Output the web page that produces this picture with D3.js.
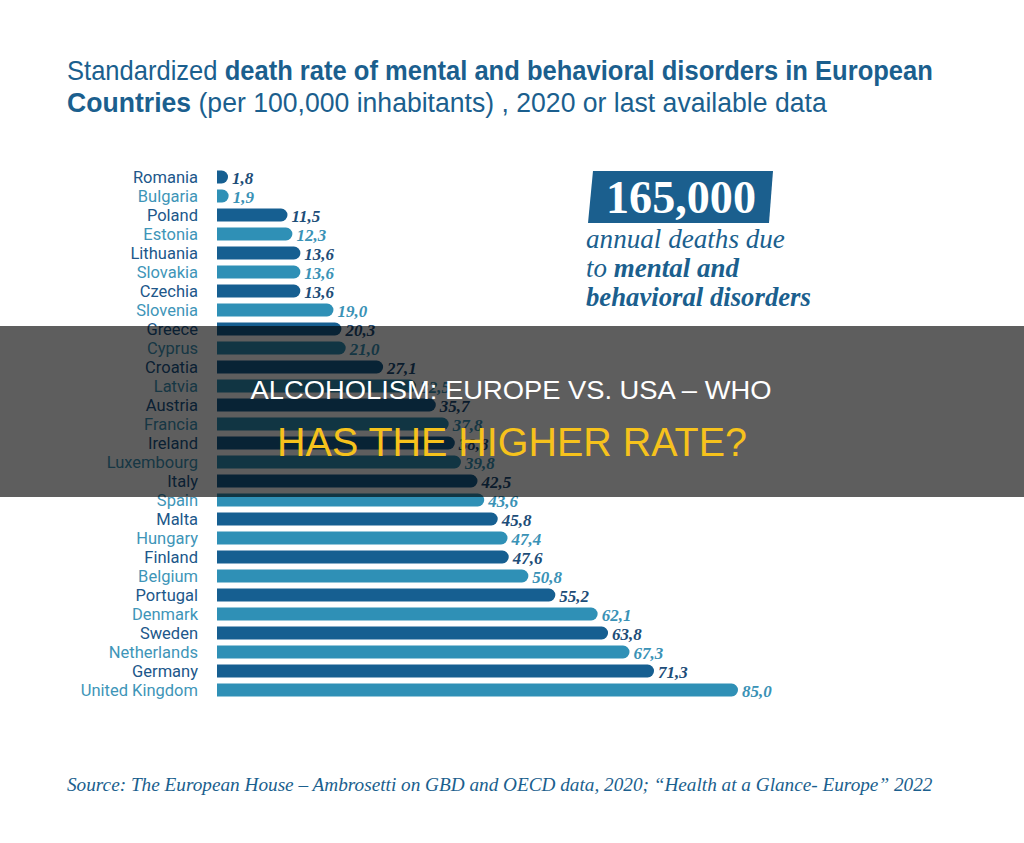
<!DOCTYPE html>
<html>
<head>
<meta charset="utf-8">
<script src="https://cdn.jsdelivr.net/npm/d3@7"></script>
<style>
  html, body { margin: 0; padding: 0; background: #fff; }
  svg { display: block; }
</style>
</head>
<body>
<div id="chart"></div>
<script>
// death rate per 100,000 inhabitants
const countries = ['Romania','Bulgaria','Poland','Estonia','Lithuania','Slovakia','Czechia','Slovenia','Greece','Cyprus','Croatia','Latvia','Austria','Francia','Ireland','Luxembourg','Italy','Spain','Malta','Hungary','Finland','Belgium','Portugal','Denmark','Sweden','Netherlands','Germany','United Kingdom'];
const rates = [1.8,1.9,11.5,12.3,13.6,13.6,13.6,19.0,20.3,21.0,27.1,32.5,35.7,37.8,38.8,39.8,42.5,43.6,45.8,47.4,47.6,50.8,55.2,62.1,63.8,67.3,71.3,85.0];
// which shade each row uses (0 = dark, 1 = light)
const shade = [0,1,0,1,0,1,0,1,0,1,0,1,0,1,0,1,0,1,0,1,0,1,0,1,0,1,0,1];

const headline = '165,000';
const bandLine1 = 'ALCOHOLISM: EUROPE VS. USA \u2013 WHO';
const bandLine2 = 'HAS THE HIGHER RATE?';
const source = 'Source: The European House \u2013 Ambrosetti on GBD and OECD data, 2020; \u201cHealth at a Glance- Europe\u201d  2022';

(function(){
  const W = 1024, H = 843;
  const BLUE = '#1b5f8e';
  const barFill = ['#165f91', '#2f90b6'];
  const labelFill = ['#20578a', '#3e95b8'];
  const valueFill = ['#1d4d78', '#3a92b6'];
  const serif = "'Liberation Serif','DejaVu Serif',serif";
  const sans = "'Liberation Sans',Arial,sans-serif";

  const svg = d3.select('#chart').append('svg').attr('width', W).attr('height', H);
  svg.append('rect').attr('width', W).attr('height', H).attr('fill', '#fff');

  // squeeze/stretch a text node to a target width by changing its font size
  function fit(sel, width){
    const n = sel.node(); const fs = parseFloat(sel.attr('font-size'));
    const w = n.getComputedTextLength();
    if (w > 0) sel.attr('font-size', (fs * width / w).toFixed(2));
    return sel;
  }
  // keep the height, squeeze horizontally to a target width (condensed look)
  function squeeze(g, text, width){
    const w = text.node().getComputedTextLength();
    const tr = g.attr('data-t');
    if (w > 0) g.attr('transform', tr + ` scale(${(width / w).toFixed(4)},1)`);
  }
  function line(x0, y0, anchor){
    const g = svg.append('g').attr('data-t', `translate(${x0},${y0})`).attr('transform', `translate(${x0},${y0})`);
    const t = g.append('text').attr('text-anchor', anchor || 'start');
    return { g, t };
  }

  // title
  const T1 = line(67, 80);
  T1.t.attr('font-family', sans).attr('font-size', 28).attr('fill', BLUE);
  T1.t.append('tspan').text('Standardized ');
  T1.t.append('tspan').attr('font-weight', 'bold').text('death rate of mental and behavioral disorders in European');
  squeeze(T1.g, T1.t, 866);
  const T2 = line(67, 112);
  T2.t.attr('font-family', sans).attr('font-size', 28).attr('fill', BLUE);
  T2.t.append('tspan').attr('font-weight', 'bold').text('Countries');
  T2.t.append('tspan').text(' (per 100,000 inhabitants) , 2020 or last available data');
  squeeze(T2.g, T2.t, 760);

  // scales
  const y = d3.scaleBand().domain(countries).range([167.5, 699.5]).paddingInner(0.32).paddingOuter(0.16);
  const x = d3.scaleLinear().domain([0, 85]).range([217, 738]);
  const bh = y.bandwidth();

  const rows = countries.map((c, i) => ({ c, v: rates[i], s: shade[i] }));

  function barPath(d){
    const x0 = x(0), x1 = x(d.v), y0 = y(d.c), r = bh / 2;
    const xe = Math.max(x0, x1 - r);
    return `M${x0},${y0}H${xe}A${r},${r} 0 0 1 ${xe},${y0 + bh}H${x0}Z`;
  }

  svg.append('g').selectAll('path').data(rows).enter().append('path')
    .attr('d', barPath).attr('fill', d => barFill[d.s]);

  svg.append('g').selectAll('text').data(rows).enter().append('text')
    .attr('x', 198).attr('y', d => y(d.c) + bh / 2 + 5.5)
    .attr('text-anchor', 'end').attr('font-family', 'Roboto, sans-serif').attr('font-size', 16.5)
    .attr('fill', d => labelFill[d.s]).text(d => d.c);

  svg.append('g').selectAll('text').data(rows).enter().append('text')
    .attr('x', d => x(d.v) + 4).attr('y', d => y(d.c) + bh / 2 + 7)
    .attr('font-family', serif).attr('font-style', 'italic').attr('font-weight', 'bold').attr('font-size', 17)
    .attr('fill', d => valueFill[d.s]).text(d => d3.format('.1f')(d.v).replace('.', ','));

  // 165,000 callout
  svg.append('path').attr('d', 'M593,171L773,171L769,223L588,223Z').attr('fill', BLUE);
  const big = svg.append('text').attr('x', 681).attr('y', 213).attr('text-anchor', 'middle')
    .attr('font-family', serif).attr('font-weight', 'bold').attr('font-size', 40).attr('fill', '#fff').text(headline);
  fit(big, 150);
  const a1 = svg.append('text').attr('x', 586).attr('y', 248).attr('font-family', serif).attr('font-style', 'italic')
    .attr('font-size', 23).attr('fill', BLUE).text('annual deaths due');
  fit(a1, 199);
  const a2 = svg.append('text').attr('x', 586).attr('y', 277).attr('font-family', serif).attr('font-style', 'italic')
    .attr('font-size', 23).attr('fill', BLUE);
  a2.append('tspan').text('to ');
  a2.append('tspan').attr('font-weight', 'bold').text('mental and');
  fit(a2, 153);
  const a3 = svg.append('text').attr('x', 586).attr('y', 306).attr('font-family', serif).attr('font-style', 'italic')
    .attr('font-weight', 'bold').attr('font-size', 23).attr('fill', BLUE).text('behavioral disorders');
  fit(a3, 225);

  // source
  const S = line(67, 791);
  S.t.attr('font-family', serif).attr('font-style', 'italic').attr('font-size', 19).attr('fill', BLUE).text(source);
  squeeze(S.g, S.t, 866);

  // dark banner across the middle
  svg.append('rect').attr('x', 0).attr('y', 326).attr('width', W).attr('height', 171)
    .attr('fill', '#000').attr('fill-opacity', 0.63);
  const B1 = line(511, 399, 'middle');
  B1.t.attr('font-family', sans).attr('font-size', 25).attr('fill', '#fff').text(bandLine1);
  squeeze(B1.g, B1.t, 521);
  const B2 = line(512, 456, 'middle');
  B2.t.attr('font-family', sans).attr('font-size', 41).attr('fill', '#f6c21c').text(bandLine2);
  squeeze(B2.g, B2.t, 470);
})();
</script>
</body>
</html>
